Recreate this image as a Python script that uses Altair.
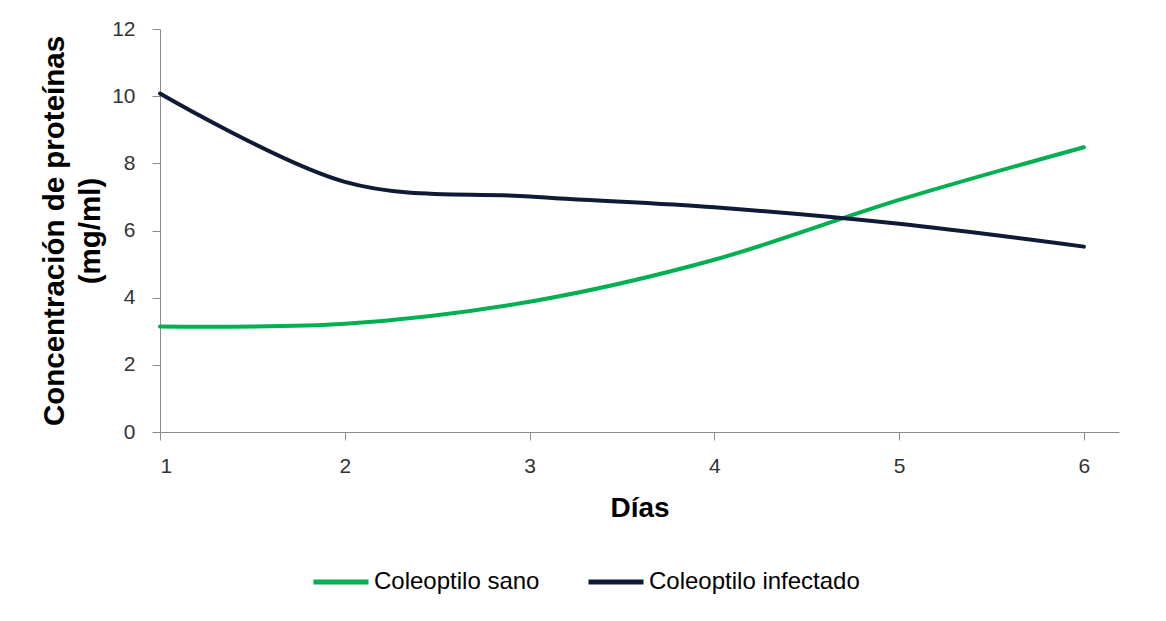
import altair as alt
import pandas as pd

dias = [1, 2, 3, 4, 5, 6]
sano = [3.14, 3.22, 3.88, 5.13, 6.91, 8.48]
infectado = [10.08, 7.45, 7.01, 6.69, 6.2, 5.52]
series = ["Coleoptilo sano", "Coleoptilo infectado"]
colors = ["#00B050", "#0E1A36"]

rows = []
for d, v in zip(dias, sano):
    rows.append({"dia": d, "valor": v, "serie": series[0]})
for d, v in zip(dias, infectado):
    rows.append({"dia": d, "valor": v, "serie": series[1]})
df = pd.DataFrame(rows)

font = "Liberation Sans"

chart = alt.Chart(df).mark_line(strokeWidth=4, interpolate="cardinal", strokeCap="round").encode(
    x=alt.X("dia:Q",
            scale=alt.Scale(domain=[1, 6.19], nice=False, zero=False),
            axis=alt.Axis(title="Días", values=dias, format="d", grid=False,
                          domainColor="#8C8C8C", tickColor="#8C8C8C", tickSize=8,
                          labelFontSize=21, labelColor="#333333", labelFont=font,
                          labelPadding=15, titleFontSize=28, titleFont=font,
                          titleFontWeight="bold", titleColor="#000000", titlePadding=18)),
    y=alt.Y("valor:Q",
            scale=alt.Scale(domain=[0, 12], nice=False),
            axis=alt.Axis(title=["Concentración de proteínas", "(mg/ml)"], values=[0, 2, 4, 6, 8, 10, 12],
                          grid=False, domainColor="#8C8C8C", tickColor="#8C8C8C", tickSize=8,
                          labelFontSize=21, labelColor="#333333", labelFont=font, labelPadding=17,
                          titleFontSize=29.5, titleFont=font, titleFontWeight="bold",
                          titleColor="#000000", titlePadding=6, titleLineHeight=36)),
    color=alt.Color("serie:N", scale=alt.Scale(domain=series, range=colors),
                    sort=series,
                    legend=alt.Legend(title=None, orient="none", legendX=151, legendY=523,
                                      direction="horizontal", symbolType="stroke",
                                      symbolSize=3025, symbolStrokeWidth=5,
                                      labelFontSize=24, labelFont=font, labelColor="#000000",
                                      labelOffset=3, labelLimit=0, columnPadding=38, padding=0)),
).properties(
    width=959, height=403,
    padding={"left": 152, "top": 21, "right": 39, "bottom": 181},
    autosize=alt.AutoSizeParams(type="none"),
).configure_view(stroke=None)

chart.save("out.html", embed_options={"renderer": "svg", "actions": False})
